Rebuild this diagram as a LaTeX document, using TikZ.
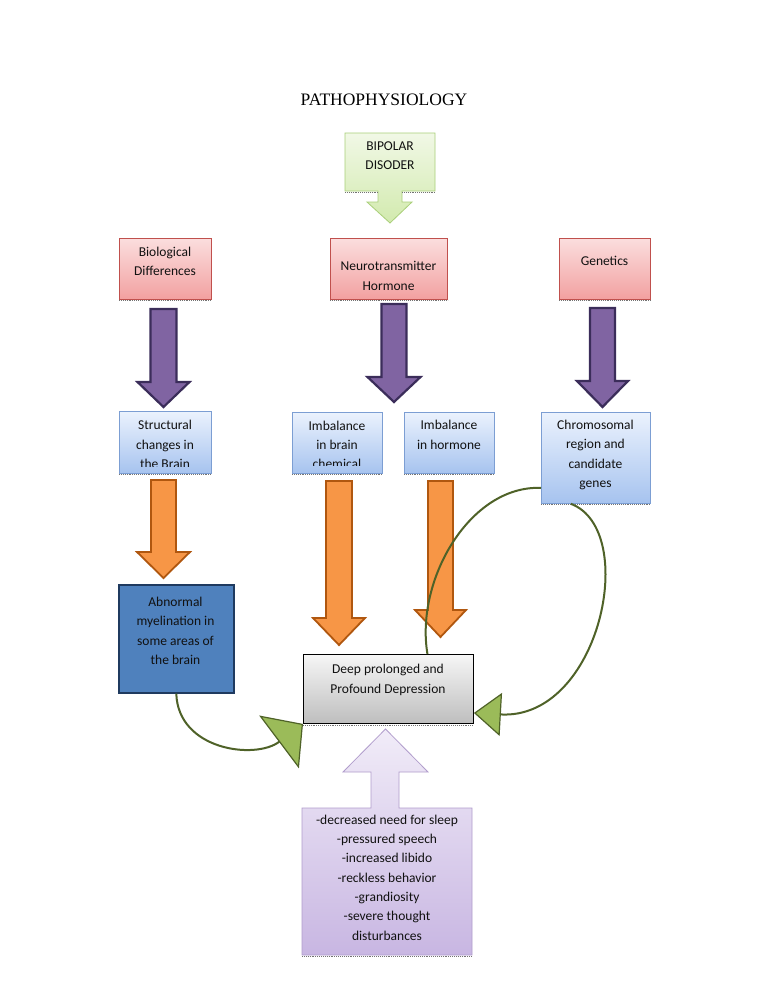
\documentclass[tikz,border=0pt]{standalone}
\usepackage{fontspec}
\setmainfont{Carlito}
\newfontfamily\titlefont{Liberation Serif}
\usetikzlibrary{arrows.meta}
\definecolor{grnTop}{HTML}{F1F8E6}
\definecolor{grnBot}{HTML}{D2EAAE}
\definecolor{grnDraw}{HTML}{A9CF79}
\definecolor{redTop}{HTML}{FBDEDE}
\definecolor{redBot}{HTML}{F2A0A0}
\definecolor{redDraw}{HTML}{C0504D}
\definecolor{bluTop}{HTML}{EBF2FD}
\definecolor{bluBot}{HTML}{A6C3EF}
\definecolor{bluDraw}{HTML}{7C9ED3}
\definecolor{purFill}{HTML}{8064A2}
\definecolor{purDraw}{HTML}{3B2D5A}
\definecolor{orgFill}{HTML}{F79646}
\definecolor{orgDraw}{HTML}{B0570F}
\definecolor{myelFill}{HTML}{4F81BD}
\definecolor{myelDraw}{HTML}{1F3A5F}
\definecolor{gryTop}{HTML}{F6F6F6}
\definecolor{gryBot}{HTML}{BEBEBE}
\definecolor{lavTop}{HTML}{F1ECF8}
\definecolor{lavBot}{HTML}{C8B6E2}
\definecolor{lavDraw}{HTML}{B19DCC}
\definecolor{olive}{HTML}{4F6228}
\definecolor{triFill}{HTML}{9BBB59}
\definecolor{txtCol}{HTML}{111111}
\newcommand\DownBlk[7]{\draw[#1] (#2-#3,#5) -- (#2+#3,#5) -- (#2+#3,#6) -- (#2+#4,#6) -- (#2,#7) -- (#2-#4,#6) -- (#2-#3,#6) -- cycle;}
\tikzset{
  txt/.style={font=\fontsize{13.5}{19.3}\selectfont, align=center, text=txtCol, inner sep=0pt},
  boxbase/.style={anchor=north west, inner sep=0pt, line width=0.8pt},
  redbox/.style={boxbase, draw=redDraw, top color=redTop, bottom color=redBot},
  blubox/.style={boxbase, draw=bluDraw, top color=bluTop, bottom color=bluBot},
  purarrow/.style={fill=purFill, draw=purDraw, line width=2.2pt, line join=miter},
  orgarrow/.style={fill=orgFill, draw=orgDraw, line width=1.8pt, line join=miter},
  conn/.style={draw=olive, line width=2pt},
  shadowline/.style={draw=black!55, densely dotted, line width=0.9pt}
}
\begin{document}
\begin{tikzpicture}[x=1pt,y=-1pt]
\useasboundingbox[fill=white] (0,0) rectangle (768,994);

% title
\node[font=\titlefont\fontsize{17.5}{20}\selectfont, inner sep=0pt] (title) at (384,100) {PATHOPHYSIOLOGY};

% bipolar callout
\draw[draw=grnDraw, top color=grnTop, bottom color=grnBot, line width=0.8pt]
  (345,133) -- (435,133) -- (435,191) -- (402,191) -- (402,202) -- (412,202) -- (390,223)
  -- (367,202) -- (378,202) -- (378,191) -- (345,191) -- cycle;
\draw[shadowline] (345,192) -- (378,192) (402,192) -- (435,192);
\node[txt] (bip) at (390,156) {BIPOLAR\\DISODER};

% red boxes
\node[redbox, minimum width=92pt, minimum height=61pt] (bio) at (119,238) {};
\node[redbox, minimum width=117pt, minimum height=61pt] (neuro) at (330,238) {};
\node[redbox, minimum width=91pt, minimum height=61pt] (gen) at (559,238) {};
\foreach \n in {bio,neuro,gen} \draw[shadowline] ([yshift=-1pt]\n.south west) -- ([yshift=-1pt]\n.south east);
\node[txt] (bioT) at (165,261.5) {Biological\\Differences};
\node[txt] (neuroT) at (388.5,276) {Neurotransmitter\\Hormone};
\node[txt] (genT) at (604.5,261) {Genetics};

% purple arrows
\DownBlk{purarrow}{163.5}{13}{26}{309}{382}{407}
\DownBlk{purarrow}{394}{12.5}{26.5}{304}{377}{402}
\DownBlk{purarrow}{602.5}{12.5}{25.5}{308}{381}{407}

% blue boxes
\node[blubox, minimum width=92pt, minimum height=62pt] (struct) at (119,411) {};
\node[blubox, minimum width=90pt, minimum height=61pt] (chem) at (292,412) {};
\node[blubox, minimum width=90pt, minimum height=61pt] (horm) at (404,412) {};
\node[blubox, minimum width=109pt, minimum height=91pt] (chrom) at (541,412) {};
\foreach \n in {struct,chem,horm,chrom} \draw[shadowline] ([yshift=-1pt]\n.south west) -- ([yshift=-1pt]\n.south east);
\begin{scope}
  \clip (119.5,411.5) rectangle (210.5,466.5);
  \node[txt] (structT) at (165,444.5) {Structural\\changes in\\the Brain};
\end{scope}
\begin{scope}
  \clip (292.5,412.5) rectangle (381.5,465.5);
  \node[txt] (chemT) at (337,445) {Imbalance\\in brain\\chemical};
\end{scope}
\node[txt] (hormT) at (449,435) {Imbalance\\in hormone};
\node[txt] (chromT) at (595.5,455) {Chromosomal\\region and\\candidate\\genes};

% orange arrows
\DownBlk{orgarrow}{163.5}{12.5}{26.5}{480}{552}{578}
\DownBlk{orgarrow}{339}{13}{26}{481}{618}{645}
\DownBlk{orgarrow}{440.5}{12.5}{25.5}{481}{610}{637}

% abnormal myelination
\node[anchor=north west, inner sep=0pt, minimum width=115pt, minimum height=108pt,
  fill=myelFill, draw=myelDraw, line width=1.6pt] (myel) at (118,584) {};
\node[txt] (myelT) at (175.5,631) {Abnormal\\myelination in\\some areas of\\the brain};

% depression
\node[anchor=north west, inner sep=0pt, minimum width=170pt, minimum height=69pt,
  top color=gryTop, bottom color=gryBot, draw=black, line width=0.9pt] (dep) at (303,654) {};
\draw[shadowline] ([yshift=-1.5pt]dep.south west) -- ([yshift=-1.5pt]dep.south east);
\node[txt] (depT) at (388,680) {Deep prolonged and\\Profound Depression};

% symptoms callout
\draw[draw=lavDraw, top color=lavTop, bottom color=lavBot, line width=0.8pt]
  (302,808) -- (371,808) -- (371,772) -- (343,772) -- (385.5,729) -- (428,772) -- (399,772)
  -- (399,808) -- (472,808) -- (472,955) -- (302,955) -- cycle;
\draw[shadowline] (302,956) -- (472,956);
\node[txt] (sympT) at (387,877.5) {-decreased need for sleep\\-pressured speech\\-increased libido\\-reckless behavior\\-grandiosity\\-severe thought\\disturbances};

% green connectors
\draw[conn, -{Triangle[width=66pt,length=30pt,fill=triFill,line width=1.2pt]}]
  (myel.south) .. controls (178,750) and (255,760) .. (dep.south west);
\draw[conn, -{Triangle[width=43pt,length=27pt,fill=triFill,line width=1.2pt]}]
  ([xshift=-25pt]chrom.south) .. controls (640,530) and (600,720) .. ([yshift=-24pt]dep.east);
\draw[conn]
  ([yshift=-30pt]chrom.west) .. controls (470,485) and (415,580) .. ([xshift=39pt]dep.north);
\end{tikzpicture}
\end{document}
